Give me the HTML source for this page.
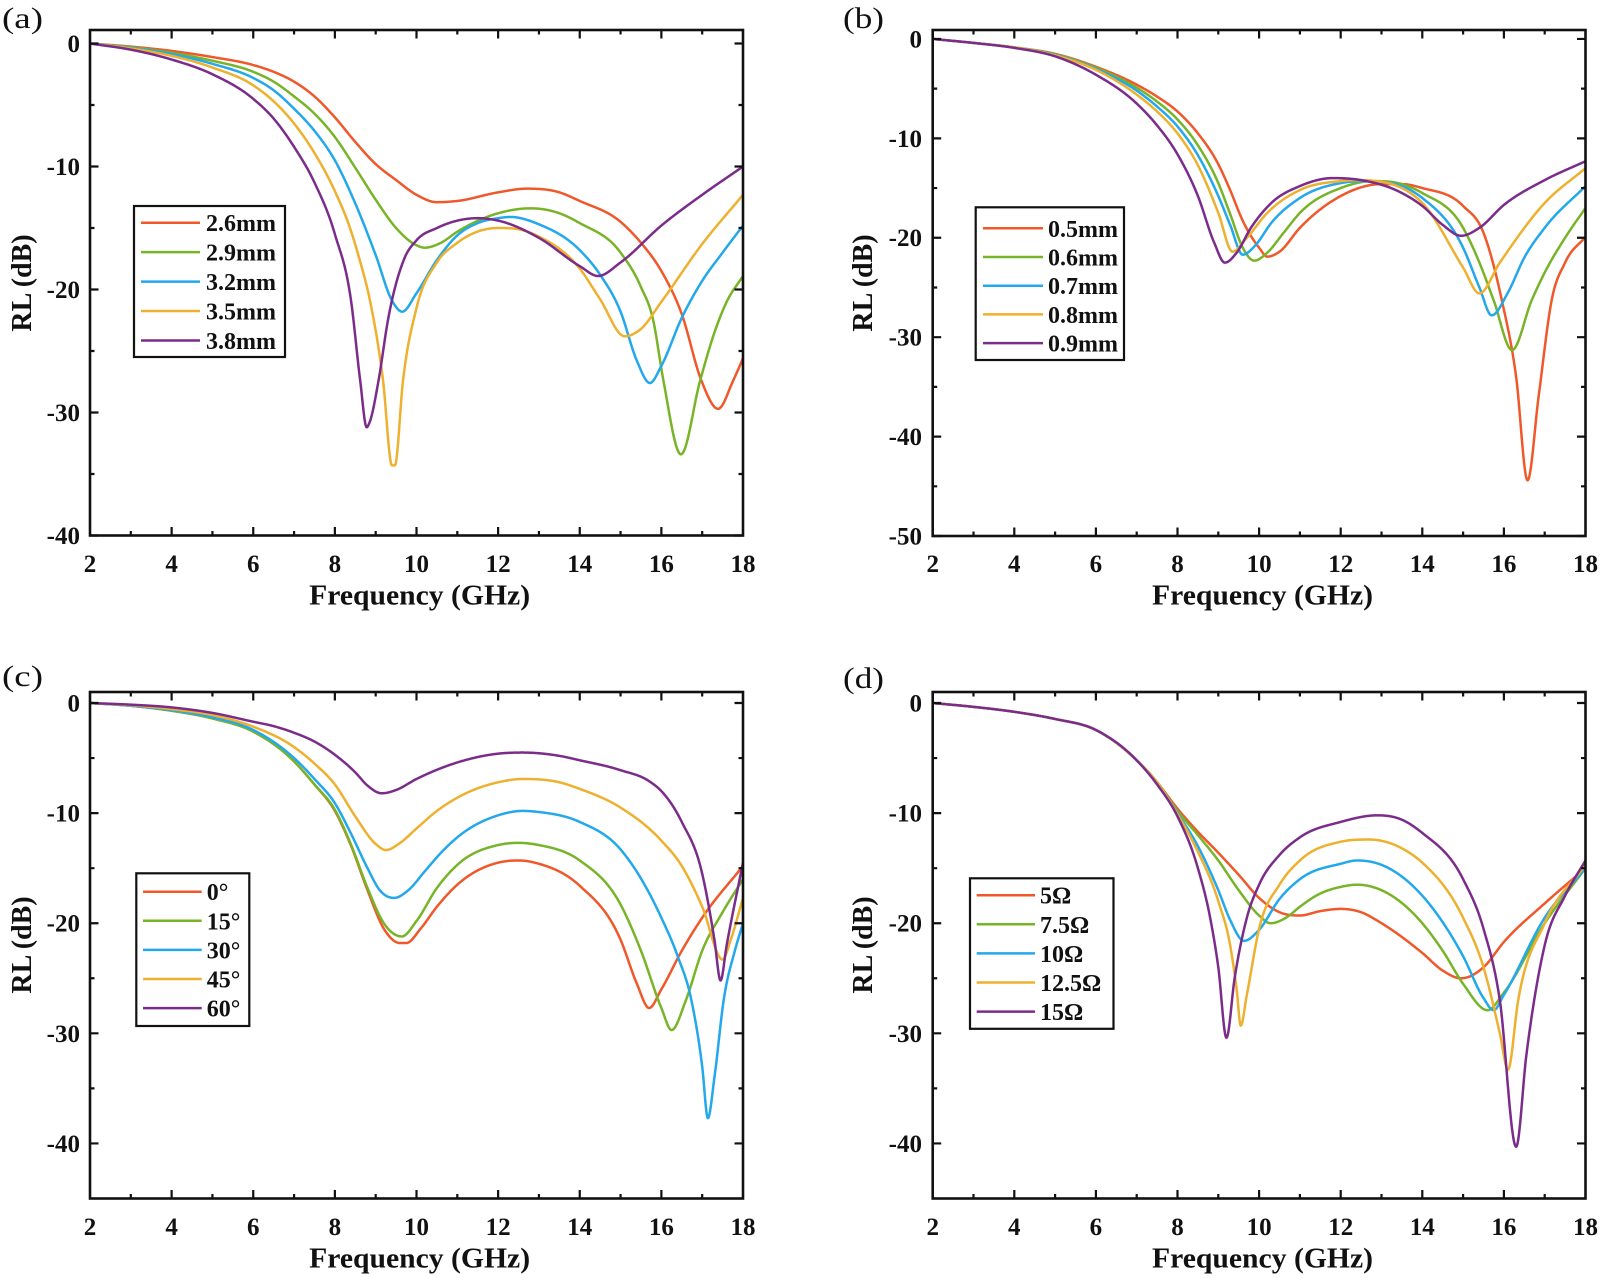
<!DOCTYPE html>
<html><head><meta charset="utf-8">
<style>
html,body{margin:0;padding:0;background:#fff;}
svg{display:block;}
text{font-family:"Liberation Serif","Times New Roman",serif;fill:#111;}
.t{font-size:25px;font-weight:bold;}
.lab{font-size:28px;font-weight:bold;}
.pl{font-size:30px;}
.lg{font-size:24px;font-weight:bold;}
</style></head><body>
<svg id="s" width="1600" height="1278" viewBox="0 0 1600 1278" xmlns="http://www.w3.org/2000/svg">
<rect width="1600" height="1278" fill="#fff"/>
<defs>
<clipPath id="c0"><rect x="90" y="30" width="653" height="505.5"/></clipPath>
<clipPath id="c1"><rect x="932.7" y="30" width="652.8" height="506"/></clipPath>
<clipPath id="c2"><rect x="90" y="692" width="653" height="506.5"/></clipPath>
<clipPath id="c3"><rect x="932.7" y="692" width="652.8" height="506.5"/></clipPath>
</defs>
<g id="curves"></g>
<g id="axes" stroke="#111" fill="none"></g>

<!-- Legends -->
<g stroke-width="2.5">
<rect x="134" y="206" width="151" height="151" fill="#fff" stroke="#111" stroke-width="2.2"/>
<line x1="141" x2="200" y1="222.7" y2="222.7" stroke="#F0582A"/>
<line x1="141" x2="200" y1="252.1" y2="252.1" stroke="#78B428"/>
<line x1="141" x2="200" y1="281.6" y2="281.6" stroke="#23A8EB"/>
<line x1="141" x2="200" y1="311" y2="311" stroke="#EEB02F"/>
<line x1="141" x2="200" y1="340.5" y2="340.5" stroke="#7B2C8B"/>

<rect x="975.7" y="207.3" width="148.3" height="152.7" fill="#fff" stroke="#111" stroke-width="2.2"/>
<line x1="983" x2="1043" y1="228.3" y2="228.3" stroke="#F0582A"/>
<line x1="983" x2="1043" y1="257" y2="257" stroke="#78B428"/>
<line x1="983" x2="1043" y1="285.7" y2="285.7" stroke="#23A8EB"/>
<line x1="983" x2="1043" y1="314.4" y2="314.4" stroke="#EEB02F"/>
<line x1="983" x2="1043" y1="343.1" y2="343.1" stroke="#7B2C8B"/>

<rect x="136.3" y="873.3" width="113" height="152.7" fill="#fff" stroke="#111" stroke-width="2.2"/>
<line x1="143" x2="201.7" y1="891.7" y2="891.7" stroke="#F0582A"/>
<line x1="143" x2="201.7" y1="920.8" y2="920.8" stroke="#78B428"/>
<line x1="143" x2="201.7" y1="949.9" y2="949.9" stroke="#23A8EB"/>
<line x1="143" x2="201.7" y1="979" y2="979" stroke="#EEB02F"/>
<line x1="143" x2="201.7" y1="1008.1" y2="1008.1" stroke="#7B2C8B"/>

<rect x="970" y="878.3" width="143.5" height="150.5" fill="#fff" stroke="#111" stroke-width="2.2"/>
<line x1="976.7" x2="1035" y1="895.2" y2="895.2" stroke="#F0582A"/>
<line x1="976.7" x2="1035" y1="924.3" y2="924.3" stroke="#78B428"/>
<line x1="976.7" x2="1035" y1="953.4" y2="953.4" stroke="#23A8EB"/>
<line x1="976.7" x2="1035" y1="982.5" y2="982.5" stroke="#EEB02F"/>
<line x1="976.7" x2="1035" y1="1011.6" y2="1011.6" stroke="#7B2C8B"/>
</g>
<g class="lg">
<text x="206" y="231.2">2.6mm</text>
<text x="206" y="260.6">2.9mm</text>
<text x="206" y="290.1">3.2mm</text>
<text x="206" y="319.5">3.5mm</text>
<text x="206" y="349">3.8mm</text>

<text x="1048" y="236.8">0.5mm</text>
<text x="1048" y="265.5">0.6mm</text>
<text x="1048" y="294.2">0.7mm</text>
<text x="1048" y="322.9">0.8mm</text>
<text x="1048" y="351.6">0.9mm</text>

<text x="206.7" y="900.2">0°</text>
<text x="206.7" y="929.3">15°</text>
<text x="206.7" y="958.4">30°</text>
<text x="206.7" y="987.5">45°</text>
<text x="206.7" y="1016.6">60°</text>

<text x="1040" y="903.7">5Ω</text>
<text x="1040" y="932.8">7.5Ω</text>
<text x="1040" y="961.9">10Ω</text>
<text x="1040" y="991">12.5Ω</text>
<text x="1040" y="1020.1">15Ω</text>
</g>

<!-- Panel labels -->
<g class="pl">
<text x="2" y="28" textLength="41" lengthAdjust="spacingAndGlyphs">(a)</text>
<text x="843" y="28" textLength="41" lengthAdjust="spacingAndGlyphs">(b)</text>
<text x="2" y="686" textLength="41" lengthAdjust="spacingAndGlyphs">(c)</text>
<text x="843" y="688" textLength="41" lengthAdjust="spacingAndGlyphs">(d)</text>
</g>

<!-- Tick labels -->
<g class="t" text-anchor="end">
<text x="80" y="52">0</text>
<text x="80" y="175">-10</text>
<text x="80" y="298">-20</text>
<text x="80" y="421">-30</text>
<text x="80" y="544">-40</text>

<text x="922" y="47.4">0</text>
<text x="922" y="146.8">-10</text>
<text x="922" y="246.2">-20</text>
<text x="922" y="345.6">-30</text>
<text x="922" y="445">-40</text>
<text x="922" y="544.4">-50</text>

<text x="80" y="711.5">0</text>
<text x="80" y="821.6">-10</text>
<text x="80" y="931.7">-20</text>
<text x="80" y="1041.8">-30</text>
<text x="80" y="1151.9">-40</text>

<text x="922" y="711.5">0</text>
<text x="922" y="821.6">-10</text>
<text x="922" y="931.7">-20</text>
<text x="922" y="1041.8">-30</text>
<text x="922" y="1151.9">-40</text>
</g>
<g class="t" text-anchor="middle">
<text x="90" y="572">2</text>
<text x="171.6" y="572">4</text>
<text x="253.3" y="572">6</text>
<text x="334.9" y="572">8</text>
<text x="416.5" y="572">10</text>
<text x="498.1" y="572">12</text>
<text x="579.8" y="572">14</text>
<text x="661.4" y="572">16</text>
<text x="743" y="572">18</text>

<text x="932.7" y="572">2</text>
<text x="1014.3" y="572">4</text>
<text x="1095.9" y="572">6</text>
<text x="1177.5" y="572">8</text>
<text x="1259.1" y="572">10</text>
<text x="1340.7" y="572">12</text>
<text x="1422.3" y="572">14</text>
<text x="1503.9" y="572">16</text>
<text x="1585.5" y="572">18</text>

<text x="90" y="1235">2</text>
<text x="171.6" y="1235">4</text>
<text x="253.3" y="1235">6</text>
<text x="334.9" y="1235">8</text>
<text x="416.5" y="1235">10</text>
<text x="498.1" y="1235">12</text>
<text x="579.8" y="1235">14</text>
<text x="661.4" y="1235">16</text>
<text x="743" y="1235">18</text>

<text x="932.7" y="1235">2</text>
<text x="1014.3" y="1235">4</text>
<text x="1095.9" y="1235">6</text>
<text x="1177.5" y="1235">8</text>
<text x="1259.1" y="1235">10</text>
<text x="1340.7" y="1235">12</text>
<text x="1422.3" y="1235">14</text>
<text x="1503.9" y="1235">16</text>
<text x="1585.5" y="1235">18</text>
</g>

<!-- Axis labels -->
<g class="lab" text-anchor="middle">
<text x="419.6" y="604.5" textLength="221" lengthAdjust="spacingAndGlyphs">Frequency (GHz)</text>
<text x="1262.5" y="604.5" textLength="221" lengthAdjust="spacingAndGlyphs">Frequency (GHz)</text>
<text x="419.6" y="1267.5" textLength="221" lengthAdjust="spacingAndGlyphs">Frequency (GHz)</text>
<text x="1262.5" y="1267.5" textLength="221" lengthAdjust="spacingAndGlyphs">Frequency (GHz)</text>
<text transform="translate(31,283) rotate(-90)">RL (dB)</text>
<text transform="translate(872,283) rotate(-90)">RL (dB)</text>
<text transform="translate(31,945) rotate(-90)">RL (dB)</text>
<text transform="translate(872,945) rotate(-90)">RL (dB)</text>
</g>
</svg>
<script>
(function(){
var NS="http://www.w3.org/2000/svg";
var C=['#F0582A','#78B428','#23A8EB','#EEB02F','#7B2C8B'];
var P=[
{x0:90,x1:743,top:30,bot:535.5,ymax:1.1,ymin:-40,clip:'c0',maj:[0,-10,-20,-30,-40],min:[-5,-15,-25,-35],
d:[
[2,0,3,-0.25,4,-0.6,5,-1.1,6,-1.75,6.5,-2.3,7,-3.1,7.5,-4.3,8,-6.0,8.5,-8.0,9,-9.8,9.5,-11.1,10,-12.3,10.5,-12.9,11,-12.8,12,-12.1,12.7,-11.8,13.5,-12.1,14,-12.8,15,-14.5,15.5,-16.2,16,-18.5,16.5,-22,16.98,-27.4,17.39,-29.7,17.76,-27.4,18,-25.6],
[2,0,3,-0.3,4,-0.75,5,-1.4,6,-2.3,6.5,-3.1,7,-4.3,7.5,-5.7,8,-7.6,8.5,-10.1,9,-12.7,9.5,-15,10,-16.4,10.2,-16.6,10.6,-16.2,11,-15.3,12,-13.8,12.8,-13.4,13.5,-13.8,14,-14.6,15,-17,15.5,-19.8,15.8,-22.5,16.05,-27.4,16.48,-33.4,16.95,-27.4,17.3,-23.5,17.6,-21,18,-18.9],
[2,0,3,-0.35,4,-0.85,5,-1.65,6,-2.8,6.5,-3.8,7,-5.3,7.5,-7.1,8,-9.5,8.5,-13,9,-17.2,9.4,-20.9,9.65,-21.8,10,-20.3,10.5,-17.6,11,-15.6,11.5,-14.6,12,-14.2,12.3,-14.1,13,-14.7,14,-16.8,14.5,-18.8,15,-21.8,15.4,-25.8,15.72,-27.6,16,-26.2,16.5,-22.3,17,-19.3,17.5,-17,18,-14.8],
[2,0,3,-0.4,4,-1,5,-1.95,6,-3.4,6.5,-4.7,7,-6.5,7.5,-8.9,8,-12,8.37,-15,8.6,-17.5,8.86,-20.9,9.18,-27.4,9.4,-34.3,9.47,-34.3,9.67,-27.4,10,-21.5,10.5,-17.8,11,-16.2,12,-15,12.5,-15.1,13,-15.7,14,-18.3,14.5,-20.8,15.1,-23.8,15.5,-23.2,16,-21,17,-16.3,18,-12.3],
[2,0,3,-0.5,4,-1.3,5,-2.5,6,-4.5,6.5,-6.1,7,-8.4,7.5,-11.3,8,-15.5,8.4,-21,8.62,-27.4,8.78,-31.2,8.85,-30.8,9.07,-27.4,9.3,-22.5,9.7,-17.5,10,-16,10.5,-15,11,-14.4,11.5,-14.2,12,-14.4,13,-15.8,14,-18.1,14.45,-18.9,15,-17.8,16,-14.8,17,-12.3,18,-10]
]},
{x0:932.7,x1:1585.5,top:30,bot:536,ymax:0.9,ymin:-50,clip:'c1',maj:[0,-10,-20,-30,-40,-50],min:[-5,-15,-25,-35,-45],
d:[
[2,0,3,-0.4,4,-0.85,5,-1.5,6,-2.8,7,-4.6,7.5,-5.8,8,-7.3,8.5,-9.5,9,-12.6,9.29,-15.2,9.6,-18.3,10,-21,10.2,-21.9,10.5,-21.4,11,-19,12,-15.8,13,-14.6,13.5,-14.6,14,-15,15,-16.8,15.5,-19.5,15.95,-26.3,16.3,-34,16.58,-44.4,16.85,-36,17.17,-26.3,17.5,-22.5,18,-19.9],
[2,0,3,-0.4,4,-0.85,5,-1.55,6,-2.9,7,-4.9,7.5,-6.3,8,-8.1,8.5,-10.7,9,-14.5,9.29,-17.6,9.6,-21,9.88,-22.3,10.2,-21.5,10.6,-19.5,11,-17.5,12,-15,12.8,-14.3,13.5,-14.6,14,-15.5,15,-19,15.4,-22.5,15.75,-26.3,16.2,-31.3,16.68,-26.3,17,-23.5,17.5,-20,18,-17],
[2,0,3,-0.4,4,-0.85,5,-1.6,6,-3,7,-5.2,7.5,-6.8,8,-8.8,8.5,-11.7,9,-15.8,9.29,-18.7,9.6,-21.7,9.9,-20.8,10.3,-18.5,11,-16,12,-14.5,12.5,-14.3,13.5,-14.8,14,-16,15,-21,15.4,-25,15.7,-27.8,16.1,-25.5,16.5,-22,17,-19,18,-14.8],
[2,0,3,-0.4,4,-0.85,5,-1.65,6,-3.1,7,-5.6,7.5,-7.3,8,-9.5,8.5,-12.7,9,-17.5,9.35,-21.4,9.7,-20,10.2,-17.5,11,-15.2,12,-14.3,12.3,-14.2,13.5,-15,14,-16.5,15,-23,15.4,-25.6,15.9,-22.5,17,-16.5,18,-13],
[2,0,3,-0.4,4,-0.9,5,-1.75,6,-3.6,7,-6.5,7.5,-8.7,8,-11.6,8.5,-15.8,8.9,-20.5,9.16,-22.5,9.45,-21.5,9.8,-19,10.3,-16.5,11,-14.8,11.8,-14,12.5,-14.2,13.5,-15.5,14,-16.8,14.5,-18.7,14.95,-19.8,15.4,-19,16,-16.7,17,-14.2,18,-12.3]
]},
{x0:90,x1:743,top:692,bot:1198.5,ymax:1,ymin:-45,clip:'c2',maj:[0,-10,-20,-30,-40],min:[-5,-15,-25,-35],
d:[
[2,0,3,-0.25,4,-0.7,5,-1.4,6,-2.6,7,-5.3,7.5,-7.4,8,-9.8,8.4,-13,8.8,-17,9.2,-20.5,9.6,-21.8,9.75,-21.8,10.1,-20.5,10.5,-18.5,11,-16.5,12,-14.5,12.5,-14.3,13,-14.6,14,-16.6,15,-21.5,15.4,-25.5,15.7,-27.7,16,-26,16.5,-22.5,17,-19.5,18,-14.8],
[2,0,3,-0.25,4,-0.7,5,-1.4,6,-2.6,7,-5.3,7.5,-7.4,8,-9.7,8.4,-12.9,8.8,-16.8,9.2,-20,9.64,-21.2,10,-19.8,10.5,-16.8,11,-14.7,12,-12.9,12.5,-12.7,13,-12.9,14,-14.3,15,-18.3,15.5,-22.5,16,-27.7,16.25,-29.7,16.6,-27,17,-22.5,17.5,-19,18,-16],
[2,0,3,-0.25,4,-0.65,5,-1.3,6,-2.45,7,-5.0,7.5,-6.9,8,-9.1,8.4,-11.9,8.8,-15.0,9.1,-17,9.45,-17.7,9.8,-17.0,10.2,-15.3,10.6,-13.6,11,-12.2,12,-10.2,12.6,-9.8,13,-9.9,14,-10.8,15,-13.3,16,-19.5,16.4,-23,16.73,-26.9,17,-33,17.14,-37.7,17.3,-34,17.53,-26.9,17.8,-22.5,18,-20],
[2,0,3,-0.2,4,-0.55,5,-1.1,6,-2.15,7,-4,7.5,-5.5,8,-7.4,8.5,-10.3,9,-12.8,9.25,-13.35,9.6,-12.7,10,-11.4,10.5,-9.8,11,-8.6,12,-7.2,12.6,-6.9,13.5,-7.2,14,-7.8,15,-9.5,16,-12.5,16.5,-14.8,17,-18.5,17.5,-23.3,17.7,-21.5,18,-17.7],
[2,0,3,-0.15,4,-0.4,5,-0.9,6,-1.7,6.5,-2.1,7,-2.7,7.5,-3.5,8,-4.7,8.5,-6.3,8.8,-7.5,9.15,-8.2,9.5,-7.9,10,-6.9,11,-5.4,12,-4.6,12.6,-4.5,13.5,-4.8,14,-5.2,15,-6.1,15.7,-7.1,16,-8,16.5,-10.8,17,-15.5,17.3,-21.5,17.45,-25.2,17.6,-22,18,-14.5]
]},
{x0:932.7,x1:1585.5,top:692,bot:1198.5,ymax:1,ymin:-45,clip:'c3',maj:[0,-10,-20,-30,-40],min:[-5,-15,-25,-35],
d:[
[2,0,3,-0.35,4,-0.8,5,-1.45,6,-2.45,7,-5.2,7.5,-7.2,8,-9.6,8.5,-11.7,9,-13.6,9.5,-15.6,10,-17.7,10.5,-19,11,-19.3,11.5,-18.9,12,-18.7,12.5,-19,13,-20,14,-22.7,14.5,-24.3,14.95,-25,15.5,-24,16,-21.7,17,-18.2,18,-15],
[2,0,3,-0.35,4,-0.8,5,-1.45,6,-2.45,7,-5.2,7.5,-7.2,8,-9.8,8.5,-12,9,-14.3,9.5,-17,10,-19.3,10.28,-20,10.7,-19.4,11,-18.5,11.5,-17.3,12,-16.7,12.4,-16.5,13,-17,14,-20,14.5,-22.5,15,-25.5,15.6,-27.9,16,-26.3,17,-20,18,-15],
[2,0,3,-0.35,4,-0.8,5,-1.45,6,-2.45,7,-5.2,7.5,-7.2,8,-10,8.5,-13,9,-17,9.29,-19.7,9.63,-21.6,10,-20.6,10.5,-17.8,11,-16,12,-14.6,12.4,-14.3,13,-14.7,14,-17.5,15,-23,15.5,-26.8,15.75,-27.9,16,-26.5,17,-19.5,18,-15],
[2,0,3,-0.35,4,-0.8,5,-1.45,6,-2.45,7,-5.2,7.5,-7.2,8,-10.1,8.5,-13.5,9,-18,9.29,-22,9.45,-26,9.55,-29.3,9.7,-26.5,10,-20.5,10.5,-16.5,11,-14.3,12,-12.6,12.7,-12.4,13.5,-13.2,14,-14.5,15,-19.5,15.5,-24,15.9,-30,16.1,-33.3,16.35,-27,17,-20,18,-14.7],
[2,0,3,-0.35,4,-0.8,5,-1.45,6,-2.45,7,-5.2,7.5,-7.4,8,-10.3,8.5,-15,8.8,-19.5,9,-24,9.2,-30.4,9.4,-25,9.7,-19.5,10,-16.5,10.5,-13.8,11,-12.2,12,-10.8,12.9,-10.2,13.5,-10.6,14,-11.8,15,-16,15.5,-20.5,15.9,-27,16.3,-40.3,16.55,-32,17,-22,17.5,-17.5,18,-14.3]
]}
];
function mono(xs,ys){
 var n=xs.length,d=[],m=new Array(n),i;
 for(i=0;i<n-1;i++)d.push((ys[i+1]-ys[i])/(xs[i+1]-xs[i]));
 m[0]=d[0];m[n-1]=d[n-2];
 for(i=1;i<n-1;i++){
  if(d[i-1]*d[i]<=0)m[i]=0;
  else{var h0=xs[i]-xs[i-1],h1=xs[i+1]-xs[i];m[i]=(d[i-1]*h1+d[i]*h0)/(h0+h1);}
 }
 for(i=0;i<n-1;i++){
  if(d[i]===0){m[i]=0;m[i+1]=0;continue;}
  var a=m[i]/d[i],b=m[i+1]/d[i],s=a*a+b*b;
  if(s>9){var t=3/Math.sqrt(s);m[i]=t*a*d[i];m[i+1]=t*b*d[i];}
 }
 return function(x){
  var k=0;while(k<n-2&&x>xs[k+1])k++;
  var h=xs[k+1]-xs[k],t=(x-xs[k])/h,t2=t*t,t3=t2*t;
  return (2*t3-3*t2+1)*ys[k]+(t3-2*t2+t)*h*m[k]+(-2*t3+3*t2)*ys[k+1]+(t3-t2)*h*m[k+1];
 };
}
var cg=document.getElementById('curves'),ag=document.getElementById('axes');
function el(tag,attrs,parent){var e=document.createElementNS(NS,tag);for(var a in attrs)e.setAttribute(a,attrs[a]);parent.appendChild(e);return e;}
P.forEach(function(p){
 var sx=(p.x1-p.x0)/16,sy=(p.bot-p.top)/(p.ymax-p.ymin);
 function X(f){return p.x0+(f-2)*sx;}
 function Y(v){return p.top+(p.ymax-v)*sy;}
 var g=el('g',{'clip-path':'url(#'+p.clip+')'},cg);
 p.d.forEach(function(arr,ci){
  var xs=[],ys=[];for(var i=0;i<arr.length;i+=2){xs.push(arr[i]);ys.push(arr[i+1]);}
  var fn=mono(xs,ys),s='';
  for(var f=2;f<=18.0001;f+=0.01){s+=(s?'L':'M')+X(f).toFixed(2)+' '+Y(fn(Math.min(f,18))).toFixed(2);}
  el('path',{d:s,fill:'none',stroke:C[ci],'stroke-width':2.5,'stroke-linejoin':'round','stroke-linecap':'round'},g);
 });
 var s='';
 for(var f=3;f<=17;f++){
  var L=(f%2===0)?8.5:4.5,x=X(f);
  s+='M'+x+' '+p.bot+'V'+(p.bot-L)+'M'+x+' '+p.top+'V'+(p.top+L);
 }
 p.maj.forEach(function(v){var y=Y(v);s+='M'+p.x0+' '+y+'H'+(p.x0+8.5)+'M'+p.x1+' '+y+'H'+(p.x1-8.5);});
 p.min.forEach(function(v){var y=Y(v);s+='M'+p.x0+' '+y+'H'+(p.x0+4.5)+'M'+p.x1+' '+y+'H'+(p.x1-4.5);});
 el('path',{d:s,'stroke-width':2.2},ag);
 el('rect',{x:p.x0,y:p.top,width:p.x1-p.x0,height:p.bot-p.top,'stroke-width':2.6},ag);
});
})();
</script>
</body></html>
